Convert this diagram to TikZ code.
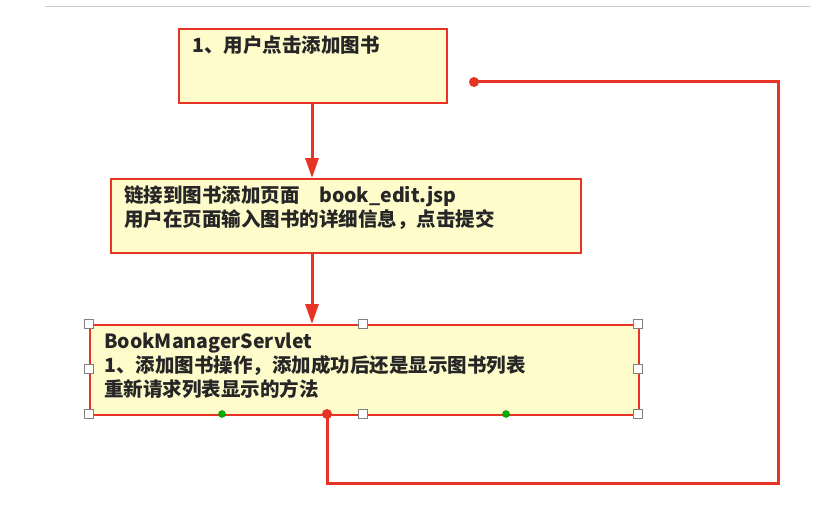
\documentclass[tikz,border=0pt]{standalone}
\usepackage{fontspec}
\setmainfont{Liberation Sans}
\newfontfamily\cjk{Noto Sans CJK SC}
\usetikzlibrary{arrows.meta}
\definecolor{rr}{RGB}{232,52,36}
\begin{document}
\begin{tikzpicture}[x=1pt,y=-1pt,
  box/.style={draw=rr,line width=2.4pt,fill=yellow!20,anchor=north west,inner sep=0},
  txt/.style={anchor=north west,align=left,inner sep=0,font=\cjk\bfseries\fontsize{19.5}{24}\selectfont,text=black!85},
  conn/.style={draw=rr,line width=3pt},
  arr/.style={conn,-{Triangle[length=20pt,width=13pt]}},
  handle/.style={draw=gray,fill=white,line width=0.8pt,minimum size=9pt,inner sep=0},
  ghandle/.style={circle,draw=green!50!black,fill=green!70!black,minimum size=7pt,inner sep=0}]
\useasboundingbox (0,0) rectangle (837,508);
\fill[white] (0,0) rectangle (837,508);
\draw[gray!40,line width=0.8pt] (45,6) -- (810,6);
\node[box,minimum width=268pt,minimum height=74pt] (b1) at (178,28) {};
\node[txt] (t1) at (192,36) {1、用户点击添加图书};
\node[box,minimum width=470pt,minimum height=74pt] (b2) at (110,178) {};
\node[txt] (t2) at (124,186) {链接到图书添加页面\quad book\_edit.jsp\\用户在页面输入图书的详细信息，点击提交};
\node[box,minimum width=549pt,minimum height=90pt] (b3) at (89,324) {};
\node[txt] (t3) at (104,333) {BookManagerServlet\\1、添加图书操作，添加成功后还是显示图书列表\\重新请求列表显示的方法};
\draw[arr] (312,102) -- (312,178);
\draw[arr] (312,252) -- (312,324);
\coordinate (s) at (327,414);
\coordinate (c1) at (327,483);
\coordinate (c2) at (778,483);
\coordinate (c3) at (778,82);
\coordinate (e) at (474,82);
\draw[conn] (s) -- (c1) -- (c2) -- (c3) -- (e);
\fill[rr] (s) circle (5pt) (e) circle (5pt);
\foreach \p in {(89,324),(363,324),(638,324),(89,369),(638,369),(89,414),(363,414),(638,414)}
  \node[handle] at \p {};
\node[ghandle] at (222,414) {};
\node[ghandle] at (506,414) {};
\end{tikzpicture}
\end{document}
